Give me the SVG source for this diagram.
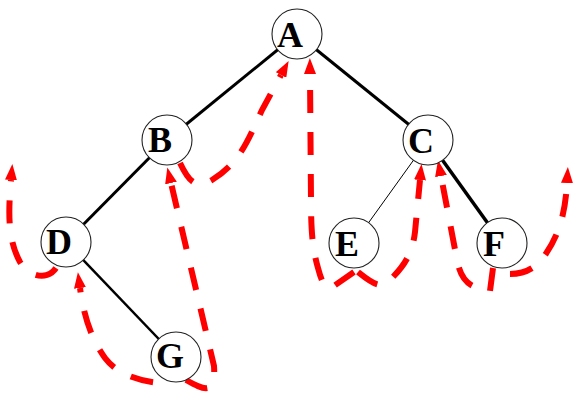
<svg xmlns="http://www.w3.org/2000/svg" width="587" height="401" viewBox="0 0 587 401">
<style>
.edge{stroke:#000;fill:none;stroke-linecap:butt}
.thread{stroke:#ff0000;stroke-width:6;fill:none;stroke-dasharray:23 19;marker-end:url(#ah)}
.node circle{fill:#fff;stroke:#222;stroke-width:1.1}
.node text{font-family:"Liberation Serif","Times New Roman",serif;font-weight:bold;font-size:36px;text-anchor:middle;fill:#000}
</style>
<defs>
<marker id="ah" markerUnits="userSpaceOnUse" markerWidth="16" markerHeight="12" viewBox="0 0 16 12" refX="0" refY="6" orient="auto">
<path d="M0,0 L16,6 L0,12 z" fill="#ff0000"/>
</marker>
</defs>
<g id="edges">
<line class="edge" x1="297" y1="34" x2="167" y2="140" stroke-width="3"/>
<line class="edge" x1="297" y1="34" x2="428" y2="140" stroke-width="3"/>
<line class="edge" x1="167" y1="140" x2="66" y2="242" stroke-width="3"/>
<line class="edge" x1="66" y1="242" x2="176" y2="357" stroke-width="2.5"/>
<line class="edge" x1="428" y1="140" x2="354" y2="243" stroke-width="1"/>
<line class="edge" x1="428" y1="140" x2="502" y2="243" stroke-width="3.5"/>
</g>
<g id="threads">
<path class="thread" d="M180,163 C188,180 195,190 212,180 C240,163 248,140 262,110 L281,75"/>
<path class="thread" d="M56,268 C48,280 30,278 20,262 C8,240 8,215 11,180"/>
<path class="thread" style="stroke-dashoffset:23" d="M172,383 C150,384 120,378 105,358 C92,340 84,318 80,288"/>
<path class="thread" d="M186,380 C204,390 216,396 214,366 L171,183"/>
<path class="thread" d="M354,272 L331,288 C326,291 322,283 318,268 C313,250 311,235 311,200 L310,74"/>
<path class="thread" d="M358,272 C368,280 380,290 388,282 C400,270 412,258 415,232 L420,180"/>
<path class="thread" d="M493,268 L490,291 L475,287 C465,283 460,275 457,260 L441,176"/>
<path class="thread" d="M510,274 C525,274 535,268 543,258 C556,240 565,220 567,183"/>
</g>
<g id="A" class="node"><circle cx="297" cy="34" r="25"/><text x="290" y="47">A</text></g>
<g id="B" class="node"><circle cx="167" cy="140" r="25"/><text x="160" y="152">B</text></g>
<g id="C" class="node"><circle cx="428" cy="140" r="25"/><text x="421" y="153">C</text></g>
<g id="D" class="node"><circle cx="66" cy="242" r="25"/><text x="59" y="254">D</text></g>
<g id="E" class="node"><circle cx="354" cy="243" r="25"/><text x="347" y="256">E</text></g>
<g id="F" class="node"><circle cx="502" cy="243" r="25"/><text x="494" y="256">F</text></g>
<g id="G" class="node"><circle cx="176" cy="357" r="25"/><text x="170" y="368">G</text></g>
</svg>
